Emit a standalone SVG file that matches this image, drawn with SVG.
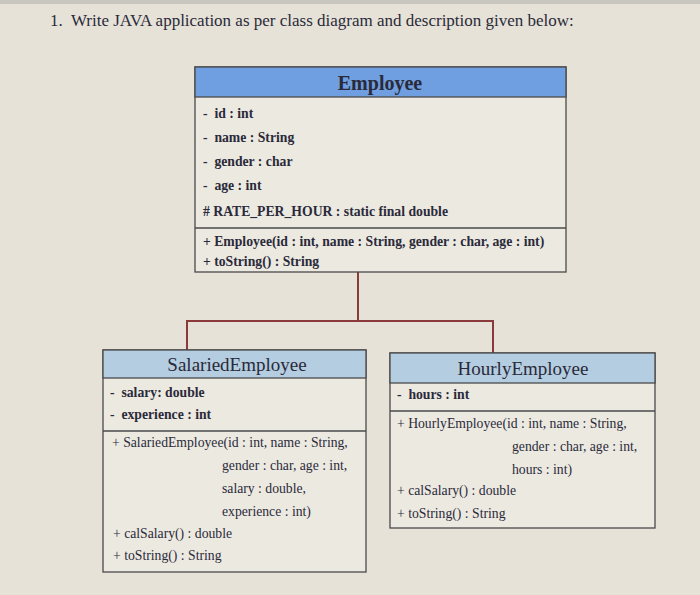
<svg xmlns="http://www.w3.org/2000/svg" width="700" height="595" viewBox="0 0 700 595">
<style>
text{font-family:"Liberation Serif",serif;fill:#2a2a3a;white-space:pre}
.b{font-weight:bold;font-size:13.7px}
.m{font-size:13.7px}
.h{font-size:19px;text-anchor:middle}
.box{fill:#ece9e1;stroke:#4a4a4a;stroke-width:1.3}
.div{stroke:#4a4a4a;stroke-width:1.3}
</style>
<rect width="700" height="595" fill="#e6e2d8"/>
<rect width="700" height="4" fill="#c9c6c0"/>
<text x="50" y="26" style="font-size:17px">1.  Write JAVA application as per class diagram and description given below:</text>
<g id="connectors" fill="none" stroke="#8a3a3a" stroke-width="2">
<path d="M358 272V320M187 350V321H493V353"/>
</g>
<g id="employee">
<rect class="box" x="195" y="67" width="371" height="205"/>
<rect x="195" y="67" width="371" height="30" fill="#6f9fe0" stroke="#4a4a4a" stroke-width="1.3"/>
<text class="h" x="380" y="90" style="font-weight:bold;font-size:20px">Employee</text>
<text class="b" x="203" y="118">-  id : int</text>
<text class="b" x="203" y="142">-  name : String</text>
<text class="b" x="203" y="166">-  gender : char</text>
<text class="b" x="203" y="190">-  age : int</text>
<text class="b" x="203" y="216"># RATE_PER_HOUR : static final double</text>
<line class="div" x1="195" y1="228" x2="566" y2="228"/>
<text class="b" x="203" y="246">+ Employee(id : int, name : String, gender : char, age : int)</text>
<text class="b" x="203" y="266">+ toString() : String</text>
</g>
<g id="salaried">
<rect class="box" x="103" y="350" width="263" height="222"/>
<rect x="103" y="350" width="263" height="28" fill="#b5cde0" stroke="#4a4a4a" stroke-width="1.3"/>
<text class="h" x="237" y="371">SalariedEmployee</text>
<text class="b" x="110" y="397">-  salary: double</text>
<text class="b" x="110" y="419">-  experience : int</text>
<line class="div" x1="103" y1="431" x2="366" y2="431"/>
<text class="m" x="112" y="447">+ SalariedEmployee(id : int, name : String,</text>
<text class="m" x="222" y="470">gender : char, age : int,</text>
<text class="m" x="222" y="493">salary : double,</text>
<text class="m" x="222" y="516">experience : int)</text>
<text class="m" x="113" y="538">+ calSalary() : double</text>
<text class="m" x="113" y="560">+ toString() : String</text>
</g>
<g id="hourly">
<rect class="box" x="390" y="353" width="265" height="175"/>
<rect x="390" y="353" width="265" height="30" fill="#b5cde0" stroke="#4a4a4a" stroke-width="1.3"/>
<text class="h" x="523" y="375">HourlyEmployee</text>
<text class="b" x="397" y="399">-  hours : int</text>
<line class="div" x1="390" y1="411" x2="655" y2="411"/>
<text class="m" x="397" y="428">+ HourlyEmployee(id : int, name : String,</text>
<text class="m" x="512" y="451">gender : char, age : int,</text>
<text class="m" x="512" y="474">hours : int)</text>
<text class="m" x="397" y="495">+ calSalary() : double</text>
<text class="m" x="397" y="518">+ toString() : String</text>
</g>
</svg>
